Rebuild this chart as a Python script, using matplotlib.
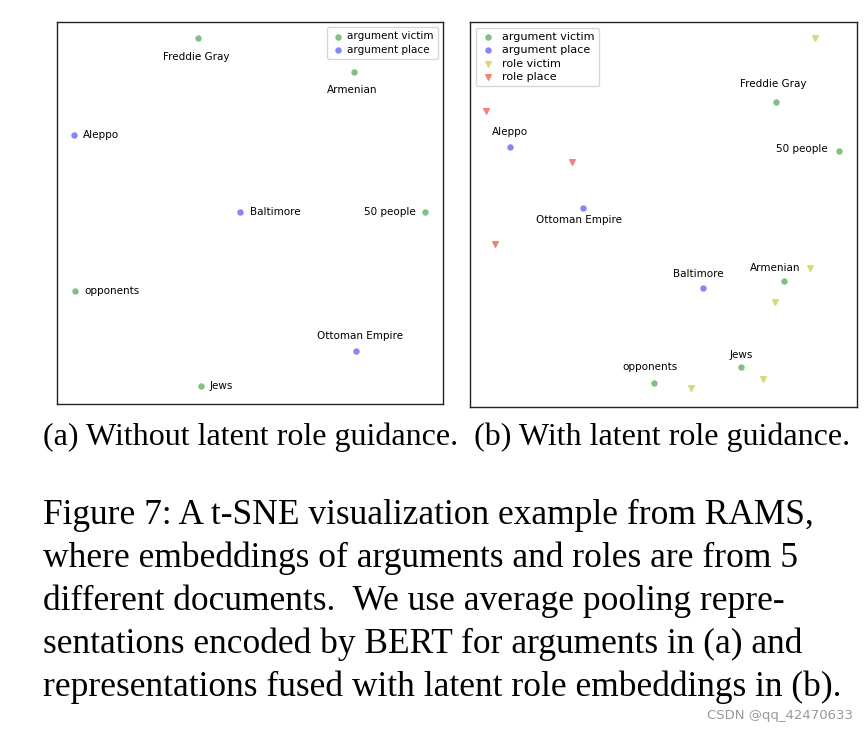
import matplotlib
matplotlib.use("Agg")
import matplotlib.pyplot as plt

# Panel (a): pixel-space coordinates
a_victim_names = ["Freddie Gray", "Armenian", "50 people", "opponents", "Jews"]
a_victim_x = [198, 354, 425, 75, 201]
a_victim_y = [38, 72, 212, 291, 386]
a_place_names = ["Aleppo", "Baltimore", "Ottoman Empire"]
a_place_x = [74, 240, 356]
a_place_y = [135, 212, 351]

# Panel (b)
b_victim_names = ["Freddie Gray", "50 people", "Armenian", "Jews", "opponents"]
b_victim_x = [776, 839, 784, 741, 654]
b_victim_y = [102, 151, 281, 367, 383]
b_place_names = ["Aleppo", "Ottoman Empire", "Baltimore"]
b_place_x = [510, 583, 703]
b_place_y = [147, 208, 288]
b_role_victim_x = [815, 810, 775, 763, 691]
b_role_victim_y = [38, 268, 302, 379, 388]
b_role_place_x = [486, 572, 495]
b_role_place_y = [111, 162, 244]

GREEN, BLUE, YELLOW, RED = "#80c080", "#8585f5", "#d8d87a", "#f58080"

fig = plt.figure(figsize=(8.67, 7.34), dpi=100)
W, H = 867, 734

def mkax(x0, x1, y0, y1):
    ax = fig.add_axes([x0 / W, 1 - y1 / H, (x1 - x0) / W, (y1 - y0) / H])
    ax.set_xlim(x0, x1); ax.set_ylim(y1, y0)
    ax.set_xticks([]); ax.set_yticks([])
    for s in ax.spines.values():
        s.set_linewidth(1.0); s.set_color("#222222")
    return ax

fs = 7.5
# Panel a
ax = mkax(57, 443, 22, 404)
ax.scatter(a_victim_x, a_victim_y, s=13, c=GREEN, label="argument victim", zorder=3)
ax.scatter(a_place_x, a_place_y, s=13, c=BLUE, label="argument place", zorder=3)
a_off = {"Freddie Gray": (-2, 19, "center"), "Armenian": (-2, 18, "center"),
         "50 people": (-9, 0, "right"), "opponents": (9, 0, "left"),
         "Jews": (9, 0, "left"), "Aleppo": (9, 0, "left"),
         "Baltimore": (10, 0, "left"), "Ottoman Empire": (4, -15, "center")}
for n, x, y in zip(a_victim_names + a_place_names, a_victim_x + a_place_x, a_victim_y + a_place_y):
    dx, dy, ha = a_off[n]
    ax.text(x + dx, y + dy, n, fontsize=fs, ha=ha, va="center")
ax.legend(loc="upper right", fontsize=fs, handletextpad=0.3, borderpad=0.4, labelspacing=0.3, handlelength=1.2)

# Panel b
ax = mkax(470, 857, 22, 407)
ax.scatter(b_victim_x, b_victim_y, s=13, c=GREEN, label="argument victim", zorder=3)
ax.scatter(b_place_x, b_place_y, s=13, c=BLUE, label="argument place", zorder=3)
ax.scatter(b_role_victim_x, b_role_victim_y, s=16, c=YELLOW, marker="v", label="role victim", zorder=3)
ax.scatter(b_role_place_x, b_role_place_y, s=16, c=RED, marker="v", label="role place", zorder=3)
b_off = {"Freddie Gray": (-3, -18, "center"), "50 people": (-11, -2, "right"),
         "Armenian": (-9, -13, "center"), "Jews": (0, -12, "center"),
         "opponents": (-4, -16, "center"), "Aleppo": (0, -15, "center"),
         "Ottoman Empire": (-4, 12, "center"), "Baltimore": (-5, -14, "center")}
for n, x, y in zip(b_victim_names + b_place_names, b_victim_x + b_place_x, b_victim_y + b_place_y):
    dx, dy, ha = b_off[n]
    ax.text(x + dx, y + dy, n, fontsize=fs, ha=ha, va="center")
ax.legend(loc="upper left", fontsize=8, handletextpad=0.5, borderpad=0.4, labelspacing=0.3, handlelength=1.5)

serif = ["Liberation Serif", "DejaVu Serif"]
fig.text(43 / W, 1 - 437 / H, "(a) Without latent role guidance.  (b) With latent role guidance.",
         fontsize=23, family=serif, va="center", ha="left")
lines = ["Figure 7: A t-SNE visualization example from RAMS,",
         "where embeddings of arguments and roles are from 5",
         "different documents.  We use average pooling repre-",
         "sentations encoded by BERT for arguments in (a) and",
         "representations fused with latent role embeddings in (b)."]
for i, l in enumerate(lines):
    fig.text(43 / W, 1 - (515 + 43 * i) / H, l, fontsize=25.5, family=serif, va="center", ha="left")
fig.text(853 / W, 1 - 716 / H, "CSDN @qq_42470633", fontsize=9.5, color="#999999", ha="right", va="center")
fig.savefig("out.png", dpi=100)
